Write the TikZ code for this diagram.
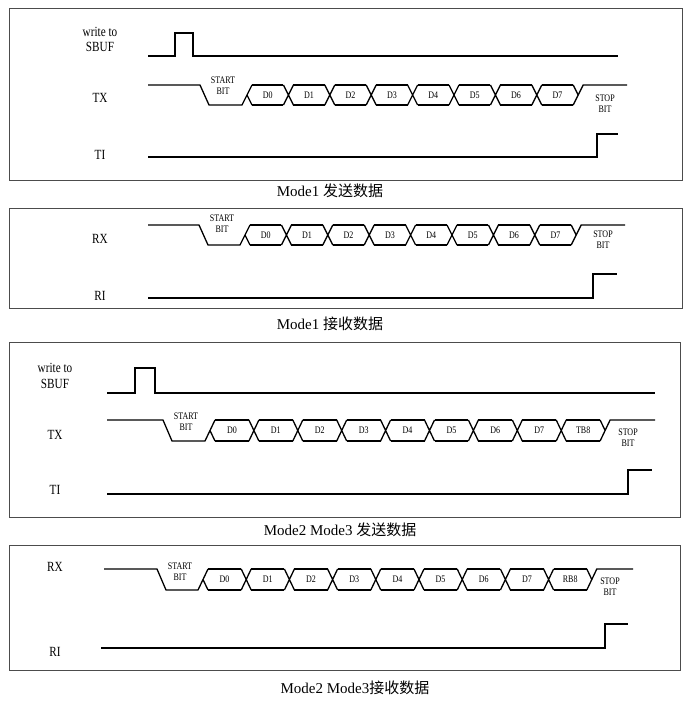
\documentclass[tikz,border=0pt]{standalone}
\usepackage{fontspec}
\setmainfont{Liberation Serif}
\newfontfamily\cjk{Noto Sans CJK SC}
\begin{document}
\begin{tikzpicture}[x=1pt,y=-1pt,line width=1pt,
  sig/.style={line width=1.3pt},
  frame/.style={draw=black!70,line width=0.7pt},
  lbl/.style={font=\fontsize{14}{14}\selectfont,inner sep=0pt,xscale=0.8},
  bl/.style={font=\fontsize{10}{11}\selectfont,inner sep=0pt,xscale=0.8,align=center},
  captxt/.style={font=\fontsize{15}{15}\selectfont,inner sep=0pt}]
\useasboundingbox (0,0) rectangle (692,703);
% #1 top y, #2 bot y, #3 first crossing x, #4 cell width, #5 number of cells, #6 labels, #7 line start x, #8 fall x, #9 end x
\newcommand\mybus[9]{%
  \pgfmathsetmacro\bmid{(#1+#2)/2}%
  \pgfmathsetmacro\cend{#3+#5*#4}%
  \draw[sig] (#7,#1) -- (#8,#1) -- (#8+9,#2) -- (#3-5,#2) -- (#3+5,#1);
  \draw[sig] (#3,\bmid) -- (#3+5,#2);
  \foreach \i in {1,...,#5}{%
    \pgfmathsetmacro\ca{#3+(\i-1)*#4}\pgfmathsetmacro\cb{#3+\i*#4}%
    \draw[sig] (\ca+5,#1) -- (\cb-5,#1) (\ca+5,#2) -- (\cb-5,#2);
  }
  \foreach \i in {1,...,#5}{%
    \pgfmathtruncatemacro\last{\i==#5}%
    \pgfmathsetmacro\cb{#3+\i*#4}%
    \ifnum\last=0
      \draw[sig] (\cb-5,#1) -- (\cb+5,#2) (\cb-5,#2) -- (\cb+5,#1);
    \fi
  }
  \draw[sig] (\cend-5,#2) -- (\cend+5,#1) -- (#9,#1);
  \draw[sig] (\cend-5,#1) -- (\cend,\bmid);
  \foreach \t [count=\i] in {#6}{%
    \node[bl] (lb\i) at ({#3+(\i-0.5)*#4},\bmid) {\t};
  }
}
% ---------- panel 1
\draw[frame] (9,8) rectangle (682,180);
\node[lbl] (w1) at (100,32) {write to};
\node[lbl] (s1) at (100,47) {SBUF};
\node[lbl] (tx1) at (100,98) {TX};
\node[lbl] (ti1) at (100,155) {TI};
\draw[sig] (148,56) -- (175,56) -- (175,33) -- (193,33) -- (193,56) -- (618,56);
\mybus{85}{105}{247}{41.4}{8}{D0,D1,D2,D3,D4,D5,D6,D7}{148}{200}{627}
\node[bl] (sb1) at (223,86) {START\\BIT};
\node[bl] (pb1) at (605,104) {STOP\\BIT};
\draw[sig] (148,157) -- (597,157) -- (597,134) -- (618,134);
\node[captxt] (c1) at (330,191) {Mode1 {\cjk 发送数据}};
% ---------- panel 2
\draw[frame] (9,208) rectangle (682,308);
\node[lbl] (rx2) at (100,239) {RX};
\node[lbl] (ri2) at (100,296) {RI};
\mybus{225}{245}{245}{41.4}{8}{D0,D1,D2,D3,D4,D5,D6,D7}{148}{199}{625}
\node[bl] (sb2) at (222,224) {START\\BIT};
\node[bl] (pb2) at (603,240) {STOP\\BIT};
\draw[sig] (148,298) -- (593,298) -- (593,274) -- (617,274);
\node[captxt] (c2) at (330,324) {Mode1 {\cjk 接收数据}};
% ---------- panel 3
\draw[frame] (9,342) rectangle (680,517);
\node[lbl] (w3) at (55,368) {write to};
\node[lbl] (s3) at (55,384) {SBUF};
\node[lbl] (tx3) at (55,435) {TX};
\node[lbl] (ti3) at (55,490) {TI};
\draw[sig] (107,393) -- (135,393) -- (135,368) -- (155,368) -- (155,393) -- (655,393);
\mybus{420}{441}{210}{43.9}{9}{D0,D1,D2,D3,D4,D5,D6,D7,TB8}{107}{163}{655}
\node[bl] (sb3) at (186,422) {START\\BIT};
\node[bl] (pb3) at (628,438) {STOP\\BIT};
\draw[sig] (107,494) -- (628,494) -- (628,470) -- (652,470);
\node[captxt] (c3) at (340,530) {Mode2 Mode3 {\cjk 发送数据}};
% ---------- panel 4
\draw[frame] (9,545) rectangle (680,670);
\node[lbl] (rx4) at (55,567) {RX};
\node[lbl] (ri4) at (55,652) {RI};
\mybus{569}{590}{203}{43.2}{9}{D0,D1,D2,D3,D4,D5,D6,D7,RB8}{104}{157}{633}
\node[bl] (sb4) at (180,572) {START\\BIT};
\node[bl] (pb4) at (610,587) {STOP\\BIT};
\draw[sig] (101,648) -- (605,648) -- (605,624) -- (628,624);
\node[captxt] (c4) at (355,688) {Mode2 Mode3{\cjk 接收数据}};
\end{tikzpicture}
\end{document}
